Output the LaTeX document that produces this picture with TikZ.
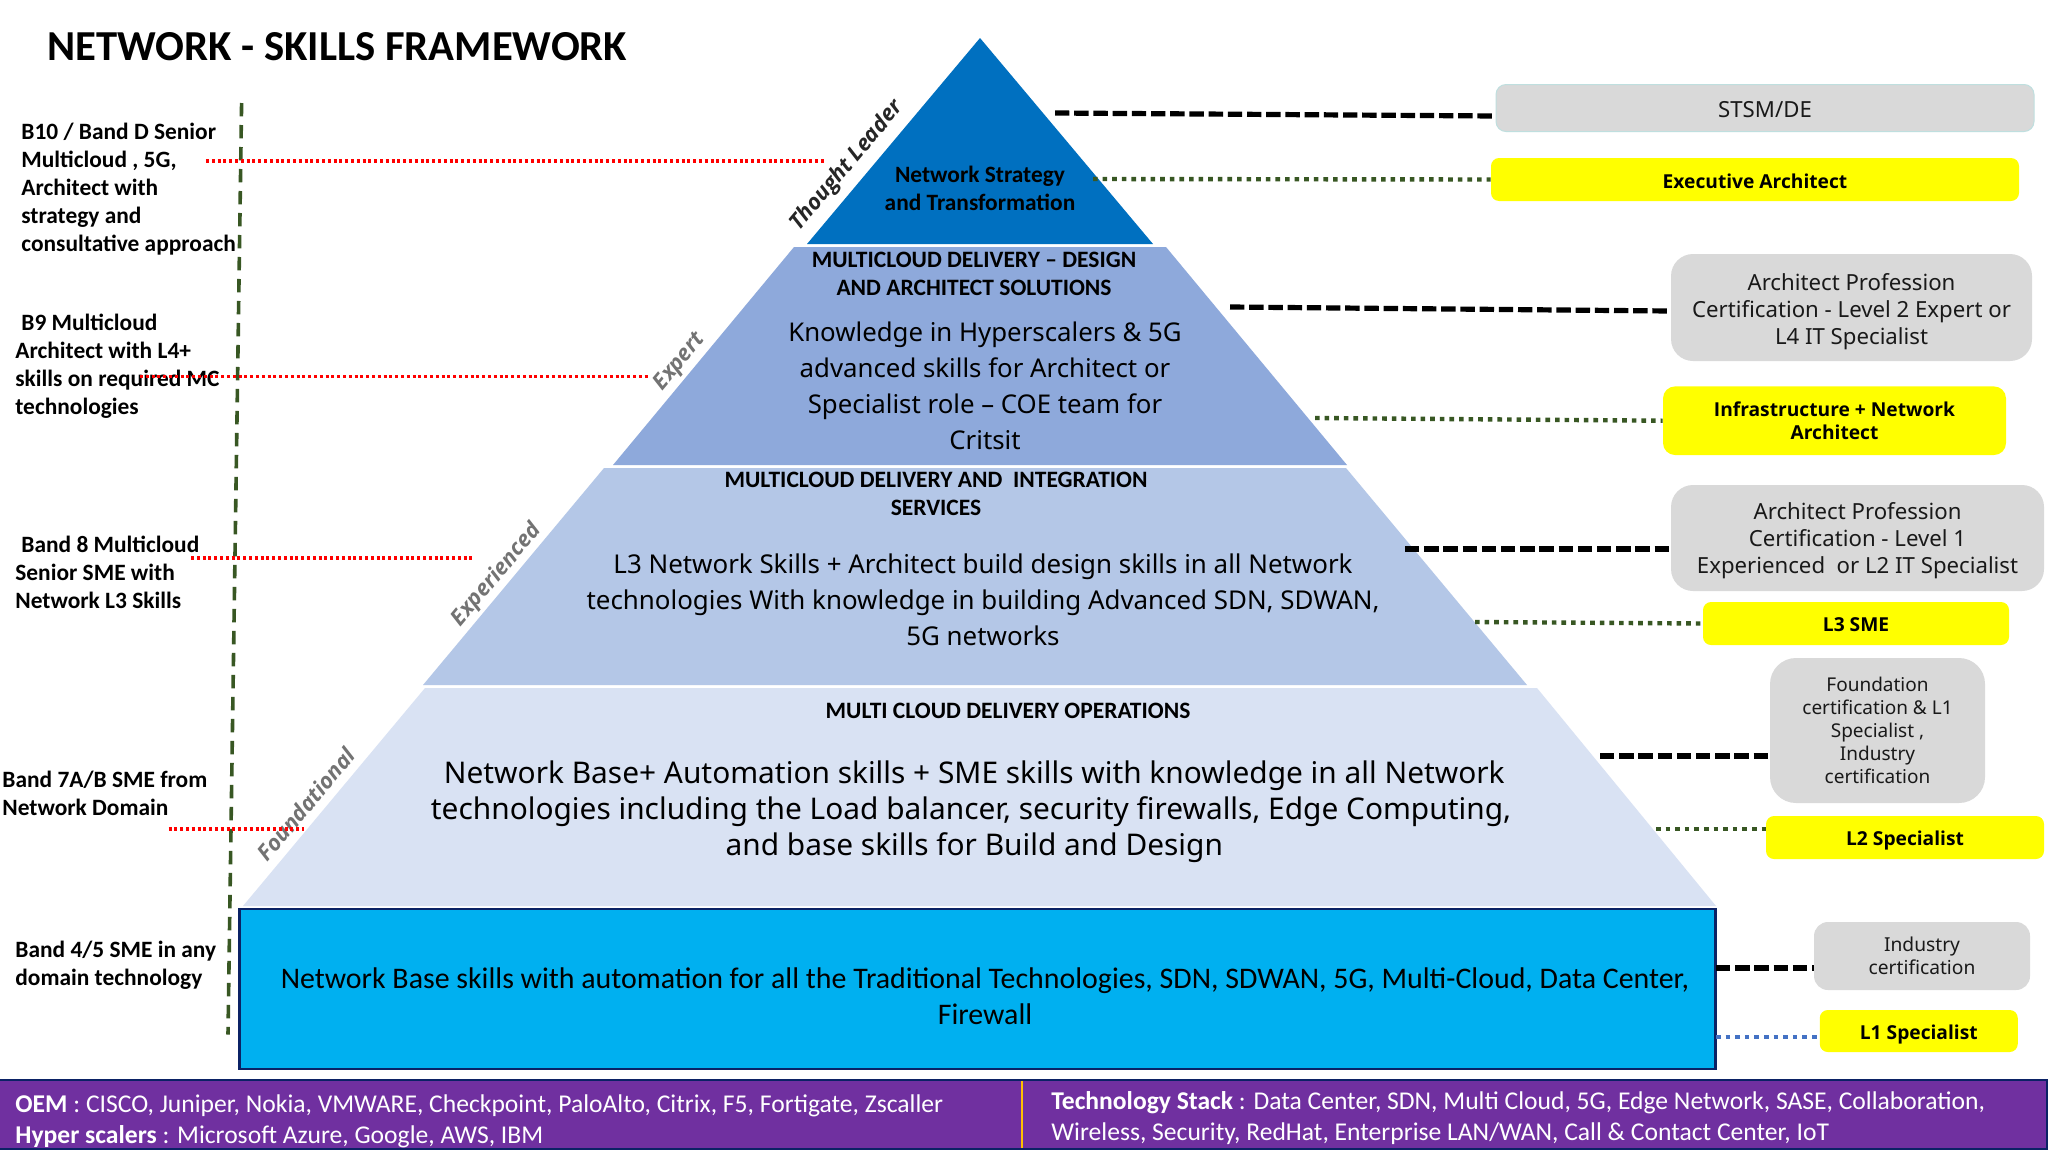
\documentclass[tikz,border=0pt]{standalone}
\usepackage{fontspec}
\setmainfont{Noto Sans}
\newfontfamily\carl{Carlito}
\newfontfamily\opens{Open Sans}
\usetikzlibrary{calc}
\definecolor{tierA}{HTML}{0070C0}
\definecolor{tierB}{HTML}{8EA9DB}
\definecolor{tierC}{HTML}{B4C7E7}
\definecolor{tierD}{HTML}{D9E2F3}
\definecolor{baseblue}{HTML}{00B0F0}
\definecolor{navy}{HTML}{0B2265}
\definecolor{barpurple}{HTML}{7030A0}
\definecolor{bargold}{HTML}{FFC000}
\definecolor{boxgray}{HTML}{D9D9D9}
\definecolor{dgreen}{HTML}{385723}
\definecolor{lblue}{HTML}{4472C4}
\definecolor{pureyellow}{HTML}{FFFF00}
\definecolor{purered}{HTML}{FF0000}
\newcommand{\topgap}[1]{\rule{0pt}{#1}}
\tikzset{
  graybox/.style={draw=none,fill=boxgray,rounded corners=11pt,inner sep=0pt,align=center,font=\fontsize{11.1}{13.5}\selectfont,text=black!90},
  yelbox/.style={draw=none,fill=pureyellow,rounded corners=6pt,inner sep=0pt,align=center,font=\opens\bfseries\fontsize{9.6}{11.5}\selectfont},
  sidelabel/.style={anchor=west,inner sep=0pt,font=\carl\bfseries\fontsize{11.7}{14}\selectfont,align=left},
  headlabel/.style={inner sep=0pt,align=center,font=\carl\bfseries\fontsize{11.75}{14}\selectfont},
  bodytext/.style={inner sep=0pt,align=center},
  blackdash/.style={draw=black,line width=2.6pt,dash pattern=on 7.2pt off 2.4pt},
  greendot/.style={draw=dgreen,line width=2.2pt,dash pattern=on 2.3pt off 2.5pt},
  bluedot/.style={draw=lblue,line width=2.2pt,dash pattern=on 2.3pt off 2.5pt},
  reddot/.style={draw=purered,line width=1.6pt,dash pattern=on 1.5pt off 1.4pt},
  greendash/.style={draw=dgreen,line width=1.8pt,dash pattern=on 6.7pt off 4.3pt},
  slant/.style={inner sep=0pt,font=\opens\bfseries\itshape\fontsize{11}{12}\selectfont,rotate=50},
  bartext/.style={anchor=west,inner sep=0pt,text=white,align=left,font=\carl\fontsize{12.8}{15.5}\selectfont},
}
\begin{document}
\begin{tikzpicture}[x=0.5pt,y=-0.5pt]
\useasboundingbox[fill=white] (0,0) rectangle (2048,1152);
% pyramid
\fill[tierA] (980,38) -- (1153,244) -- (807,244) -- cycle;
\fill[tierB] (794,247) -- (1166,247) -- (1347,465) -- (613,465) -- cycle;
\fill[tierC] (604,468) -- (1346,468) -- (1527,685) -- (423,685) -- cycle;
\fill[tierD] (425,688) -- (1537,688) -- (1716,906) -- (243,906) -- cycle;
\node[draw=navy,line width=1.2pt,fill=baseblue,minimum width=738pt,minimum height=80pt,inner sep=0pt] (base) at (977.5,989) {};
% bottom bar
\node[draw=navy,line width=1pt,fill=barpurple,minimum width=1024pt,minimum height=34.5pt,inner sep=0pt] (bar) at (1023,1114.5) {};
\coordinate (divtop) at (1022,1081);
\coordinate (divbot) at (1022,1148);
\draw[bargold,line width=1.4pt] (divtop) -- (divbot);
% title
\node[anchor=west,inner sep=0pt,font=\carl\bfseries\fontsize{21.35}{24}\selectfont] (title) at (47,47) {NETWORK - SKILLS FRAMEWORK};
% right boxes
\node[graybox,draw=teal!25,line width=.5pt,rounded corners=5pt,minimum width=269pt,minimum height=23.5pt] (stsm) at (1765,108) {\topgap{10pt}STSM/DE};
\node[yelbox,rounded corners=4pt,minimum width=264pt,minimum height=21.5pt] (exec) at (1755,179.5) {\topgap{8.9pt}Executive Architect};
\node[graybox,minimum width=180.5pt,minimum height=53.5pt] (archb) at (1851.5,307.5) {\topgap{12.5pt}Architect Profession\\Certification - Level 2 Expert or\\L4 IT Specialist};
\node[yelbox,minimum width=171.5pt,minimum height=34.3pt] (infra) at (1834.5,420.7) {Infrastructure + Network\\Architect};
\node[graybox,minimum width=186.5pt,minimum height=53pt] (archa) at (1857.5,538) {\topgap{11.2pt}Architect Profession\\Certification - Level 1\\Experienced\ \ or L2 IT Specialist};
\node[yelbox,rounded corners=4pt,minimum width=153pt,minimum height=21.5pt] (lthree) at (1856,623.5) {\topgap{8.3pt}L3 SME};
\node[graybox,rounded corners=13pt,font=\fontsize{9.5}{11.5}\selectfont,minimum width=107.5pt,minimum height=72.5pt] (found) at (1877.5,730.5) {Foundation\\certification \& L1\\Specialist ,\\Industry\\certification};
\node[yelbox,rounded corners=4pt,minimum width=139pt,minimum height=21.5pt] (ltwo) at (1905,837.5) {\topgap{10.3pt}L2 Specialist};
\node[graybox,rounded corners=7pt,font=\fontsize{9.6}{11.5}\selectfont,minimum width=108pt,minimum height=34pt] (ind) at (1922,956) {Industry\\certification};
\node[yelbox,rounded corners=4pt,minimum width=99pt,minimum height=21pt] (lone) at (1918.75,1031) {\topgap{10.3pt}L1 Specialist};
% tier texts
\node[bodytext,font=\carl\bfseries\fontsize{11.7}{14}\selectfont] (tA) at (980,188) {Network Strategy\\and Transformation};
\node[headlabel] (hB) at (974,274) {MULTICLOUD DELIVERY – DESIGN\\AND ARCHITECT SOLUTIONS};
\node[bodytext,font=\fontsize{12.9}{18}\selectfont] (tB) at (985,386) {Knowledge in Hyperscalers \& 5G\\advanced skills for Architect or\\Specialist role – COE team for\\Critsit};
\node[headlabel] (hC) at (936,494) {MULTICLOUD DELIVERY AND\ \ INTEGRATION\\SERVICES};
\node[bodytext,font=\fontsize{12.95}{18}\selectfont] (tC) at (983,600) {L3 Network Skills + Architect build design skills in all Network\\technologies With knowledge in building Advanced SDN, SDWAN,\\5G networks};
\node[headlabel] (hD) at (1008,711) {MULTI CLOUD DELIVERY OPERATIONS};
\node[bodytext,font=\fontsize{14.93}{18}\selectfont] (tD) at (971,812) {\hspace*{3.3pt}Network Base+ Automation skills + SME skills with knowledge in all Network\\technologies including the Load balancer, security firewalls, Edge Computing,\\\hspace*{3.3pt}and base skills for Build and Design};
\node[bodytext,font=\carl\fontsize{14.95}{18}\selectfont] (tE) at (985,996.5) {Network Base skills with automation for all the Traditional Technologies, SDN, SDWAN, 5G, Multi-Cloud, Data Center,\\Firewall};
% slanted
\node[slant,text=black!85] (sA) at (847,166) {Thought Leader};
\node[slant,text=black!55] (sB) at (680,362) {Expert};
\node[slant,text=black!55] (sC) at (497,575) {Experienced};
\node[slant,text=black!55] (sD) at (306,804) {Foundational};
% left labels
\node[sidelabel] (lA) at (21,189.5) {B10 / Band D Senior\\Multicloud , 5G,\\Architect with\\strategy and\\consultative approach};
\node[sidelabel] (lB) at (15,366) {\hspace{3pt}B9 Multicloud\\Architect with L4+\\skills on required MC\\technologies};
\node[sidelabel] (lC) at (15,572.5) {\hspace{3pt}Band 8 Multicloud\\Senior SME with\\Network L3 Skills};
\node[sidelabel] (lD) at (2,793) {Band 7A/B SME from\\Network Domain};
\node[sidelabel] (lE) at (15,965) {Band 4/5 SME in any\\domain technology};
% bar text
\node[bartext] (oem) at (15,1121.5) {\textbf{OEM} : CISCO, Juniper, Nokia, VMWARE, Checkpoint, PaloAlto, Citrix, F5, Fortigate, Zscaller\\\textbf{Hyper scalers} : Microsoft Azure, Google, AWS, IBM};
\node[bartext] (tech) at (1051,1118) {\textbf{Technology Stack} : Data Center, SDN, Multi Cloud, 5G, Edge Network, SASE, Collaboration,\\Wireless, Security, RedHat, Enterprise LAN/WAN, Call \& Contact Center, IoT};
% connectors
\coordinate (v1) at (241.6,103); \coordinate (v2) at (228,1034.5);
\draw[greendash] (v1) -- (v2);
\coordinate (ra1) at (206,161); \coordinate (ra2) at (824,161);
\coordinate (rb1) at (140,376.5); \coordinate (rb2) at (649,376.5);
\coordinate (rc1) at (191,558); \coordinate (rc2) at (475,558);
\coordinate (rd1) at (168.5,829); \coordinate (rd2) at (304,829);
\draw[reddot] (ra1) -- (ra2);
\draw[reddot] (rb1) -- (rb2);
\draw[reddot] (rc1) -- (rc2);
\draw[reddot] (rd1) -- (rd2);
\coordinate (b1) at (1055,113); \coordinate (b2) at (1230,307); \coordinate (b3) at (1405,549); \coordinate (b4) at (1600,756); \coordinate (b5) at (1716,968);
\coordinate (g1) at (1093,179); \coordinate (g2) at (1315,418); \coordinate (g3) at (1475,622); \coordinate (g4) at (1656,829); \coordinate (g5) at (1716,1037);
\draw[blackdash] (b1) -- (stsm.west |- 0,116);
\draw[blackdash] (b2) -- (archb.west |- 0,311);
\draw[blackdash] (b3) -- (archa.west |- b3);
\draw[blackdash] (b4) -- (found.west |- b4);
\draw[blackdash] (b5) -- (ind.west |- b5);
\draw[greendot] (g1) -- (exec.west);
\draw[greendot] (g2) -- (infra.west);
\draw[greendot] (g3) -- (lthree.west);
\draw[greendot] (g4) -- (ltwo.west |- g4);
\draw[bluedot] (g5) -- (lone.west |- g5);
\end{tikzpicture}
\end{document}
